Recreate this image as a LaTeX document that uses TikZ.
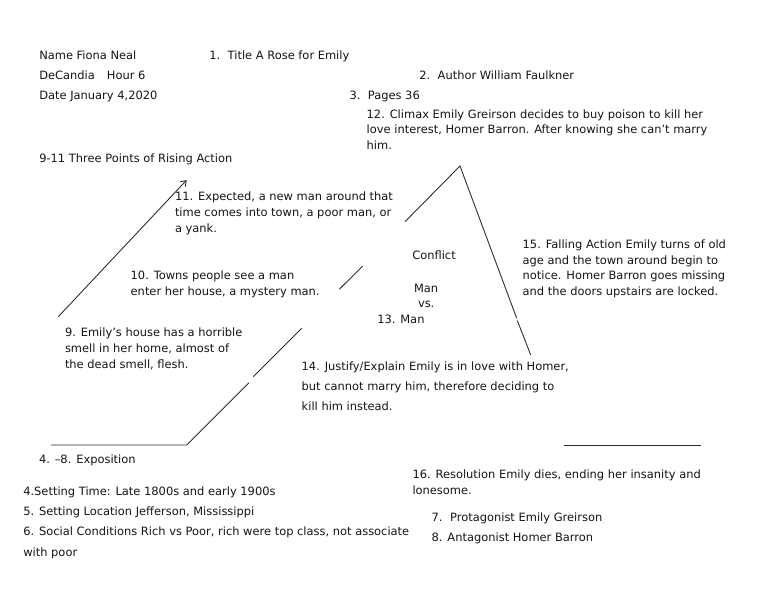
\documentclass[tikz,border=0pt]{standalone}
\usepackage{fontspec}
\setmainfont{DejaVu Sans}
\usetikzlibrary{arrows.meta}
\newcommand{\apos}{{\char"0027}}
\tikzset{
  txt/.style={anchor=base west, inner sep=0pt, outer sep=0pt, text=black!92,
    font=\fontsize{11.45}{14}\selectfont},
  plotline/.style={draw=black!82, line width=0.9pt},
}
\begin{document}
\begin{tikzpicture}[x=1pt,y=-1pt]
\useasboundingbox (0,0) rectangle (768,594);
% header
\node[txt] (name) at (39.3,59.3) {Name Fiona Neal};
\node[txt] (title) at (209.3,59.3) {1.\hspace{7.5pt}Title A Rose for Emily};
\node[txt] (teacher) at (39.3,79.3) {DeCandia\hspace{12pt}Hour 6};
\node[txt] (author) at (419.3,79.3) {2.\hspace{7.5pt}Author William Faulkner};
\node[txt] (date) at (39.3,99.3) {Date January 4,2020};
\node[txt] (pages) at (349.5,99.3) {3.\hspace{7.5pt}Pages 36};
% climax
\node[txt] (climaxa) at (366.7,118.3) {12. Climax Emily Greirson decides to buy poison to kill her};
\node[txt] (climaxb) at (366.7,133.9) {love interest, Homer Barron. After knowing she can\apos t marry};
\node[txt] (climaxc) at (366.7,149.5) {him.};
% rising action
\node[txt] (rising) at (39.3,162.7) {9-11 Three Points of Rising Action};
\node[txt] (ra11a) at (175,200.7) {11. Expected, a new man around that};
\node[txt] (ra11b) at (175,216.5) {time comes into town, a poor man, or};
\node[txt] (ra11c) at (175,232.3) {a yank.};
\node[txt] (ra10a) at (130.7,279.3) {10. Towns people see a man};
\node[txt] (ra10b) at (130.7,295) {enter her house, a mystery man.};
\node[txt] (ra9a) at (65,336.7) {9. Emily\apos s house has a horrible};
\node[txt] (ra9b) at (65,352.5) {smell in her home, almost of};
\node[txt] (ra9c) at (65,368) {the dead smell, flesh.};
% conflict
\node[txt] (conflict) at (412.3,259) {Conflict};
\node[txt] (mana) at (414,292.3) {Man};
\node[txt] (vs) at (418,307.7) {vs.};
\node[txt] (manb) at (377.3,323.3) {13. Man};
% falling action
\node[txt] (fa1) at (522.7,248.7) {15. Falling Action Emily turns of old};
\node[txt] (fa2) at (522.7,264.2) {age and the town around begin to};
\node[txt] (fa3) at (522.7,279.8) {notice. Homer Barron goes missing};
\node[txt] (fa4) at (522.7,295.3) {and the doors upstairs are locked.};
% justify
\node[txt] (ju1) at (301.7,370.7) {14. Justify/Explain Emily is in love with Homer,};
\node[txt] (ju2) at (301.7,390.7) {but cannot marry him, therefore deciding to};
\node[txt] (ju3) at (301.7,410.7) {kill him instead.};
% exposition
\node[txt] (expo) at (39,463.3) {4. –8. Exposition};
\node[txt] (set4) at (23.3,495) {4.Setting Time: Late 1800s and early 1900s};
\node[txt] (set5) at (23.3,515) {5. Setting Location Jefferson, Mississippi};
\node[txt] (set6) at (23.3,535) {6. Social Conditions Rich vs Poor, rich were top class, not associate};
\node[txt] (set6b) at (23.3,556) {with poor};
% resolution
\node[txt] (res1) at (412.5,478.3) {16. Resolution Emily dies, ending her insanity and};
\node[txt] (res2) at (412.5,494) {lonesome.};
\node[txt] (prot) at (431.7,521.7) {7.\hspace{7.5pt}Protagonist Emily Greirson};
\node[txt] (ant) at (431.7,541.7) {8. Antagonist Homer Barron};
% plot line coordinates
\coordinate (b0) at (51,445);
\coordinate (b1) at (186.7,445);
\coordinate (d1) at (249,382.7);
\coordinate (d2) at (253.3,376.7);
\coordinate (d3) at (301.7,328.3);
\coordinate (s1) at (339.3,289.3);
\coordinate (s2) at (362.7,266);
\coordinate (c1) at (405,221.7);
\coordinate (peak) at (460,166);
\coordinate (f1) at (516.7,318.3);
\coordinate (f2) at (517.3,320.5);
\coordinate (f3) at (530.7,355);
\coordinate (r0) at (564,445);
\coordinate (r1) at (700.7,445);
\coordinate (a0) at (58.3,316.7);
\coordinate (a1) at (186.7,180);
% plot lines
\draw[plotline] (b0) -- (b1) -- (d1);
\draw[plotline] (d2) -- (d3);
\draw[plotline] (s1) -- (s2);
\draw[plotline] (c1) -- (peak) -- (f1);
\draw[plotline] (f2) -- (f3);
\draw[plotline] (r0) -- (r1);
\draw[plotline, -{Straight Barb[length=5pt,width=7pt]}] (a0) -- (a1);
\end{tikzpicture}
\end{document}
